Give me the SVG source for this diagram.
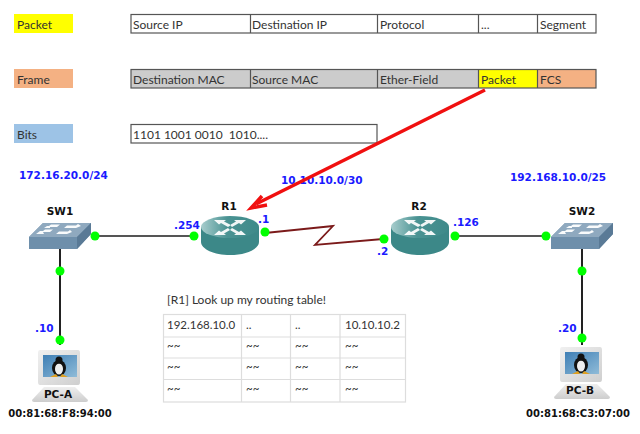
<svg xmlns="http://www.w3.org/2000/svg" width="640" height="434" viewBox="0 0 640 434">
<style>
.t{font-family:Lato,"Liberation Sans",sans-serif;font-size:12px;fill:#333;white-space:pre}
.c{stroke:#555;stroke-width:1.2}
.g{stroke:#ddd;stroke-width:1.2;fill:none}
.b{font-family:"DejaVu Sans",sans-serif;font-size:10.5px;font-weight:700;fill:#1a1aff}
.n{font-family:"DejaVu Sans",sans-serif;font-size:10.5px;font-weight:700;fill:#111;text-anchor:middle}
.m{font-family:"DejaVu Sans",sans-serif;font-size:10px;font-weight:700;fill:#111;text-anchor:middle}
.d{fill:#0f0}
.l{stroke:#555;stroke-width:2;fill:none}
.v{stroke:#222;stroke-width:2;fill:none}
</style>
<defs>
<linearGradient id="rt" x1="0" x2="1" y1="0" y2="0"><stop offset="0" stop-color="#a8cdcd"/><stop offset=".45" stop-color="#4a9393"/><stop offset="1" stop-color="#3e8a8a"/></linearGradient>
<linearGradient id="sc" x1="0" x2="1" y1="0" y2="1"><stop offset="0" stop-color="#f0f0f0"/><stop offset="1" stop-color="#cfcfcf"/></linearGradient>
<linearGradient id="scr" x1="0" x2="1" y1="0" y2="1"><stop offset="0" stop-color="#3f7fb5"/><stop offset="1" stop-color="#8fbbd8"/></linearGradient>
<linearGradient id="bs" x1="0" x2="0" y1="0" y2="1"><stop offset="0" stop-color="#efefef"/><stop offset="1" stop-color="#cdcdcd"/></linearGradient>
<g id="router">
<path d="M0 11V26C0 33 13 39 29 39S58 33 58 26V11Z" fill="#3c8888"/>
<ellipse cx="29" cy="11" rx="29" ry="11" fill="url(#rt)"/>
<path d="M13 4 25 4 23 5.500 30 9 27 11 20 7 18 8.500ZM45 4 33 4 35 5.500 29 9 31 11 38 7 40 8.500ZM13 19 25 19 23 17.500 29 14 27 12 20 16 18 14.500ZM45 19 33 19 35 17.500 29 14 31 12 38 16 40 14.500Z" fill="#fff" opacity=".92"/>
</g>
<g id="switch">
<path d="M0 16 14 2H62V13L48 28H0Z" fill="#6e8fab"/>
<path d="M0 16 14 2H62L48 16Z" fill="#8fa9bf"/>
<path d="M48 16 62 2V13L48 28Z" fill="#5a7a96"/>
<path d="M7 13 11 10H14L16 8.500H24L21 11H14L15 13ZM27 13 30 10.500H39L41 9 43 11 38 13H30ZM15 7 18 5H20L22 3.500H31L28 6H21L21 7ZM35 7 38 4.500H47L49 3 52 5 47 7H38Z" fill="#fff" opacity=".95"/>
</g>
<g id="pc">
<path d="M2 0H40Q42 0 42 3V32Q42 35 40 35H2Q0 35 0 32V3Q0 0 2 0Z" fill="url(#sc)"/>
<rect x="5" y="5" width="34" height="22" fill="url(#scr)"/>
<ellipse cx="21" cy="18" rx="7" ry="8" fill="#111"/><ellipse cx="21" cy="19" rx="4" ry="5.500" fill="#eee"/><circle cx="21" cy="10" r="3.500" fill="#111"/>
<path d="M12 27l6-3 2 3zM30 27l-6-3-2 3z" fill="#e0a020"/>
<path d="M6 37H37L50 50Q50 52 48 52H-4Q-6 52 -6 50Z" fill="url(#bs)"/>
</g>
</defs>
<rect width="640" height="434" fill="#fff"/>

<g id="packet-label"><rect x="14" y="14" width="59" height="19" fill="#ff0"/><text class="t" x="17" y="29">Packet</text></g>
<g id="frame-label"><rect x="14" y="69" width="59" height="19" fill="#f4b183"/><text class="t" x="17" y="84">Frame</text></g>
<g id="bits-label"><rect x="14" y="124" width="59" height="19" fill="#9dc3e6"/><text class="t" x="17" y="139">Bits</text></g>

<g id="packet-row">
<rect class="c" x="131" y="14.500" width="465" height="18.500" fill="#fff"/>
<path class="c" d="M250.500 14.500V33M377.500 14.500V33M478.500 14.500V33M537.500 14.500V33"/>
<text class="t" x="133" y="29">Source IP</text><text class="t" x="252" y="29">Destination IP</text><text class="t" x="380" y="29">Protocol</text><text class="t" x="481" y="29">...</text><text class="t" x="540" y="29">Segment</text>
</g>
<g id="frame-row">
<rect x="131" y="69.500" width="347" height="18.500" fill="#ccc"/><rect x="478" y="69.500" width="59" height="18.500" fill="#ff0"/><rect x="537" y="69.500" width="59" height="18.500" fill="#f4b183"/>
<rect class="c" x="131" y="69.500" width="465" height="18.500" fill="none"/>
<path class="c" d="M250.500 69.500V88M377.500 69.500V88M478.500 69.500V88M537.500 69.500V88"/>
<text class="t" x="133" y="84">Destination MAC</text><text class="t" x="252" y="84">Source MAC</text><text class="t" x="380" y="84">Ether-Field</text><text class="t" x="481" y="84">Packet</text><text class="t" x="540" y="84">FCS</text>
</g>
<g id="bits-row"><rect class="c" x="131" y="124.500" width="246" height="18.500" fill="#fff"/><text class="t" x="133" y="139">1101 1001 0010  1010....</text></g>

<g id="connectors">
<path class="l" d="M95 236H195"/>
<path class="l" d="M455 236H546"/>
<path class="v" d="M60 248V345"/>
<path class="v" d="M582 248V345"/>
<path d="M265 233 333 226 315 245 383 239" fill="none" stroke="#7b1a1a" stroke-width="1.800"/>
</g>

<g id="SW1"><use href="#switch" x="29" y="221"/><text class="n" x="60" y="215">SW1</text></g>
<g id="SW2"><use href="#switch" x="551" y="221"/><text class="n" x="582" y="215">SW2</text></g>
<g id="R1"><use href="#router" x="201" y="216"/><text class="n" x="229" y="210">R1</text></g>
<g id="R2"><use href="#router" x="391" y="216"/><text class="n" x="419" y="210">R2</text></g>
<g id="PC-A"><use href="#pc" x="38" y="350"/><text class="n" x="58" y="398">PC-A</text><text class="m" x="60" y="417">00:81:68:F8:94:00</text></g>
<g id="PC-B"><use href="#pc" x="560" y="347"/><text class="n" x="580" y="394">PC-B</text><text class="m" x="578" y="417">00:81:68:C3:07:00</text></g>

<g id="dots">
<circle class="d" cx="95" cy="236" r="4.500"/><circle class="d" cx="194" cy="236" r="4.500"/><circle class="d" cx="265" cy="232" r="4.500"/><circle class="d" cx="384" cy="239" r="4.500"/><circle class="d" cx="455" cy="236" r="4.500"/><circle class="d" cx="546" cy="236" r="4.500"/><circle class="d" cx="60" cy="271" r="4.500"/><circle class="d" cx="582" cy="271" r="4.500"/><circle class="d" cx="60" cy="340" r="4.500"/><circle class="d" cx="582" cy="338" r="4.500"/>
</g>

<g id="labels">
<text class="b" x="19" y="179">172.16.20.0/24</text>
<text class="b" x="281" y="184">10.10.10.0/30</text>
<text class="b" x="510" y="181">192.168.10.0/25</text>
<text class="b" x="174" y="229">.254</text>
<text class="b" x="258" y="223">.1</text>
<text class="b" x="377" y="255">.2</text>
<text class="b" x="453" y="226">.126</text>
<text class="b" x="35" y="332">.10</text>
<text class="b" x="558" y="332">.20</text>
</g>

<g id="arrow"><path d="M485 90 256 204" fill="none" stroke="#f01010" stroke-width="3.500"/><path d="M262 196 251 208 267 205" stroke="#f01010" stroke-width="3.500" fill="none"/></g>

<text class="t" x="167" y="304">[R1] Look up my routing table!</text>
<g id="routing-table">
<rect class="g" x="163.500" y="314.500" width="242" height="87.500"/>
<path class="g" d="M163 337H405M163 358H405M163 379.500H405M241.500 315V402M290.500 315V402M340 315V402"/>
<g class="t" style="font-size:11.500px">
<text x="167" y="329">192.168.10.0</text><text x="246" y="329">..</text><text x="295" y="329">..</text><text x="345" y="329">10.10.10.2</text>
<text x="167" y="350">~~</text><text x="246" y="350">~~</text><text x="295" y="350">~~</text><text x="345" y="350">~~</text>
<text x="167" y="371">~~</text><text x="246" y="371">~~</text><text x="295" y="371">~~</text><text x="345" y="371">~~</text>
<text x="167" y="393">~~</text><text x="246" y="393">~~</text><text x="295" y="393">~~</text><text x="345" y="393">~~</text>
</g>
</g>
</svg>
